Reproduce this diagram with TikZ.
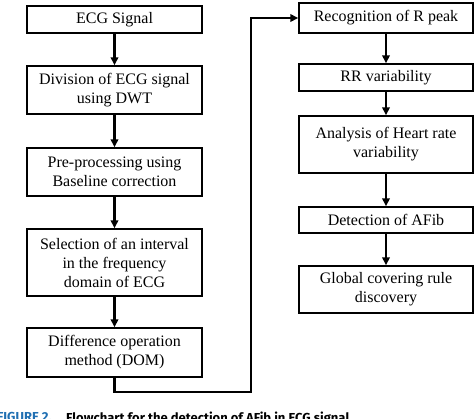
\documentclass[tikz,border=0pt]{standalone}
\usepackage{fontspec}
\setmainfont{Liberation Serif}
\newfontfamily\capfont{Fira Sans}
\usetikzlibrary{arrows.meta}
\definecolor{capblue}{HTML}{1F6FB2}
\begin{document}
\begin{tikzpicture}[x=1pt,y=-1pt,
  fbox/.style={draw, line width=1.5pt, inner sep=0pt, align=center,
    font=\fontsize{16}{19}\selectfont},
  lbox/.style={fbox, minimum width=175pt},
  rbox/.style={fbox, minimum width=174pt},
  conn/.style={line width=2.2pt, -{Triangle[length=8pt,width=7.5pt]}},
  captxt/.style={inner sep=0pt, font=\capfont\bfseries\fontsize{13}{15}\selectfont}]
\useasboundingbox (0,0) rectangle (474,418);
\clip (0,0) rectangle (474,418);
% left column
\node[lbox, minimum height=27pt] (n1) at (114.5,19.5) {ECG Signal};
\node[lbox, minimum height=48pt] (n2) at (114.5,90) {Division of ECG signal\\using DWT};
\node[lbox, minimum height=48pt] (n3) at (114.5,172) {Pre-processing using\\Baseline correction};
\node[lbox, minimum height=67pt] (n4) at (114.5,262.5) {Selection of an interval\\in the frequency\\domain of ECG};
\node[lbox, minimum height=49pt] (n5) at (114.5,352.5) {Difference operation\\method (DOM)};
% right column
\node[rbox, minimum height=30pt] (r1) at (386,18) {Recognition of R peak};
\node[rbox, minimum height=27pt] (r2) at (386,77.5) {RR variability};
\node[rbox, minimum height=57pt] (r3) at (386,144.5) {Analysis of Heart rate\\variability};
\node[rbox, minimum height=26pt] (r4) at (386,220) {Detection of AFib};
\node[rbox, minimum height=47pt] (r5) at (386,289.5) {Global covering rule\\discovery};
% connectors
\draw[conn] (n1) -- (n2);
\draw[conn] (n2) -- (n3);
\draw[conn] (n3) -- (n4);
\draw[conn] (n4) -- (n5);
\coordinate (c1) at (n5.south |- 0,392);
\coordinate (c2) at (251,392);
\coordinate (c3) at (251,18);
\draw[conn] (n5.south) -- (c1) -- (c2) -- (c3) -- (r1.west);
\draw[conn] (r1) -- (r2);
\draw[conn] (r2) -- (r3);
\draw[conn] (r3) -- (r4);
\draw[conn] (r4) -- (r5);
% caption (cut off by the picture edge, as in the reference)
\node[captxt, text=capblue, anchor=north east] (cap1) at (52,412) {FIGURE 2.};
\node[captxt, anchor=north west] (cap2) at (66,412) {Flowchart for the detection of AFib in ECG signal.};
\end{tikzpicture}
\end{document}
